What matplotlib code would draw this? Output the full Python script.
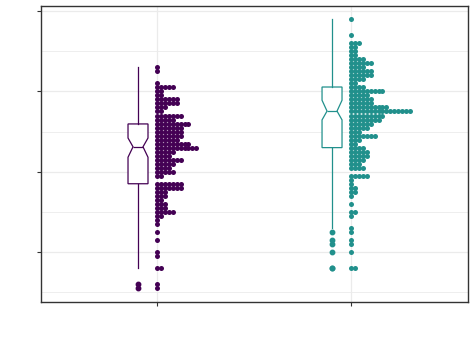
import numpy as np
import matplotlib
matplotlib.use("Agg")
from matplotlib import pyplot as plt
from matplotlib import cbook

# dot histogram rows: (value, count) per group
g1_values = [3.30, 3.25, 3.10, 3.05, 3.00, 2.95, 2.90, 2.85, 2.80, 2.75,
             2.70, 2.65, 2.60, 2.55, 2.50, 2.45, 2.40, 2.35, 2.30, 2.25,
             2.20, 2.15, 2.10, 2.05, 2.00, 1.95, 1.85, 1.80, 1.75, 1.70,
             1.65, 1.60, 1.55, 1.50, 1.45, 1.40, 1.35, 1.25, 1.15, 1.00,
             0.95, 0.80, 0.60, 0.55]
g1_counts = [1, 1, 1, 5, 2, 2, 6, 6, 3, 2,
             7, 5, 9, 7, 7, 7, 6, 9, 11, 5,
             4, 7, 5, 4, 5, 2, 7, 7, 3, 3,
             2, 3, 3, 5, 2, 1, 1, 1, 1, 1,
             1, 2, 1, 1]

g2_values = [3.90, 3.70, 3.60, 3.55, 3.50, 3.45, 3.40, 3.35, 3.30, 3.25,
             3.20, 3.15, 3.10, 3.05, 3.00, 2.95, 2.90, 2.85, 2.80, 2.75,
             2.70, 2.65, 2.60, 2.55, 2.50, 2.45, 2.40, 2.35, 2.30, 2.25,
             2.20, 2.15, 2.10, 2.05, 1.95, 1.90, 1.85, 1.80, 1.75, 1.70,
             1.60, 1.50, 1.45, 1.30, 1.25, 1.15, 1.10, 1.00, 0.80]
g2_counts = [1, 1, 3, 2, 2, 2, 4, 6, 4, 6,
             6, 4, 2, 4, 9, 5, 6, 6, 10, 16,
             9, 8, 6, 5, 3, 7, 3, 2, 4, 5,
             5, 4, 3, 4, 5, 1, 1, 2, 2, 1,
             1, 2, 1, 1, 1, 1, 1, 1, 2]

# box summary: q1, median, q3, notch low, notch high
box_q1 = [1.85, 2.30]
box_med = [2.31, 2.755]
box_q3 = [2.595, 3.055]
box_cilo = [2.18, 2.645]
box_cihi = [2.42, 2.89]

groups = [(g1_values, g1_counts), (g2_values, g2_counts)]
colors = ["#440154", "#21908C"]
positions = [1, 2]

fig = plt.figure(figsize=(4.74, 3.38), dpi=100)
ax = fig.add_axes([0.0865, 0.1065, 0.9005, 0.8755])

dx = 0.02        # horizontal spacing between stacked dots
box_off = 0.10   # box sits left of the dot column
box_w = 0.103

for k, ((vals, cnts), col, pos) in enumerate(zip(groups, colors, positions)):
    raw = np.repeat(vals, cnts)

    st = cbook.boxplot_stats(raw)[0]
    st["q1"], st["med"], st["q3"] = box_q1[k], box_med[k], box_q3[k]
    st["cilo"], st["cihi"] = box_cilo[k], box_cihi[k]

    ax.bxp([st], positions=[pos - box_off], widths=box_w, shownotches=True,
           patch_artist=True, manage_ticks=False, showcaps=False,
           boxprops=dict(facecolor="white", edgecolor=col, linewidth=0.9),
           medianprops=dict(color=col, linewidth=0.9),
           whiskerprops=dict(color=col, linewidth=0.9),
           flierprops=dict(marker="o", markerfacecolor=col,
                           markeredgecolor=col, markersize=3.2),
           zorder=3)

    # stacked dots
    xs, ys = [], []
    for v, c in zip(vals, cnts):
        for i in range(c):
            xs.append(pos + i * dx)
            ys.append(v)
    ax.plot(xs, ys, "o", color=col, markersize=3.6, markeredgewidth=0,
            zorder=4)

ax.set_xlim(0.4, 2.6)
ax.set_ylim(0.377, 4.063)
ax.set_xticks(positions)
ax.set_yticks([1, 2, 3, 4])
ax.set_yticks([0.5, 1.5, 2.5, 3.5], minor=True)
ax.set_xticklabels([])
ax.set_yticklabels([])
ax.tick_params(axis="both", which="major", length=3, width=0.8,
               color="#333333")
ax.tick_params(axis="y", which="minor", length=0)

ax.grid(True, which="major", color="#EBEBEB", linewidth=0.9, zorder=0)
ax.grid(True, which="minor", axis="y", color="#EBEBEB", linewidth=0.6,
        zorder=0)
ax.set_axisbelow(True)
for sp in ax.spines.values():
    sp.set_color("#333333")
    sp.set_linewidth(1.0)

fig.savefig("out.png", dpi=100)
